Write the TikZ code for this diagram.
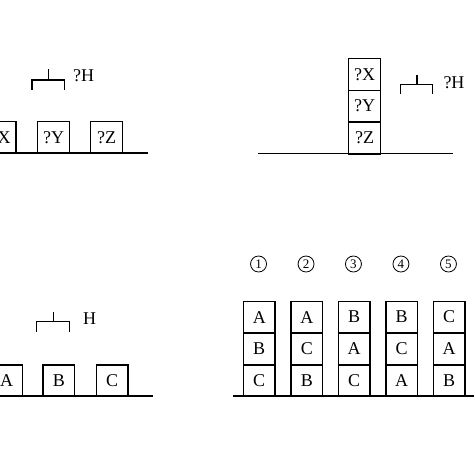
\documentclass[tikz,border=0pt]{standalone}
\usepackage{fontspec}
\setmainfont{Liberation Serif}
\begin{document}
\begin{tikzpicture}[x=1pt,y=-1pt,
  blk/.style={draw,line width=1.4pt,minimum width=31.7pt,minimum height=31.8pt,inner sep=0pt,anchor=north west,font=\fontsize{18}{20}\selectfont},
  floor/.style={line width=1.2pt},
  grip/.style={line width=1.2pt},
  lbl/.style={anchor=west,inner sep=0pt,font=\fontsize{18}{20}\selectfont},
  num/.style={draw,circle,line width=0.8pt,minimum size=16pt,inner sep=0pt,font=\fontsize{13}{15}\selectfont}]
\useasboundingbox (0,0) rectangle (474,474);
% ---------- top left ----------
\node[blk] (tx) at (-16.5,121) {?X};
\node[blk] (ty) at (37,121) {?Y};
\node[blk] (tz) at (90,121) {?Z};
\coordinate (tlA) at (0,153);
\coordinate (tlB) at (148,153);
\draw[floor] (tlA) -- (tlB);
\coordinate (g1s) at (48.3,69);
\coordinate (g1c) at (48.3,80);
\coordinate (g1l) at (32,89.5);
\coordinate (g1r) at (64.5,89.5);
\draw[grip] (g1s) -- (g1c);
\draw[grip] (g1l) |- (g1c) -| (g1r);
\node[lbl] (h1) at (73,76) {?H};
% ---------- top right ----------
\node[blk] (rx) at (348,57.7) {?X};
\node[blk] (ry) at (348,89.5) {?Y};
\node[blk] (rz) at (348,121.3) {?Z};
\coordinate (trA) at (258.3,153.3);
\coordinate (trB) at (453.3,153.3);
\draw[floor] (trA) -- (trB);
\coordinate (g2s) at (417,75);
\coordinate (g2c) at (417,84.3);
\coordinate (g2l) at (400.7,94.3);
\coordinate (g2r) at (432.7,94.3);
\draw[grip] (g2s) -- (g2c);
\draw[grip] (g2l) |- (g2c) -| (g2r);
\node[lbl] (h2) at (443.3,83) {?H};
% ---------- bottom left ----------
\node[blk] (ba) at (-10,364.2) {A};
\node[blk] (bb) at (42.3,364.2) {B};
\node[blk] (bc) at (95.7,364.2) {C};
\coordinate (blA) at (0,396);
\coordinate (blB) at (153.3,396);
\draw[floor] (blA) -- (blB);
\coordinate (g3s) at (53.3,311.7);
\coordinate (g3c) at (53.3,321.7);
\coordinate (g3l) at (36.7,331.7);
\coordinate (g3r) at (69.3,331.7);
\draw[grip] (g3s) -- (g3c);
\draw[grip] (g3l) |- (g3c) -| (g3r);
\node[lbl] (h3) at (83,318.3) {H};
% ---------- bottom right ----------
\foreach \i/\x/\a/\b/\c in {1/242.7/A/B/C,2/290.2/A/C/B,3/337.6/B/A/C,4/385.1/B/C/A,5/432.6/C/A/B}{
  \node[blk] (s\i a) at (\x,300.5) {\a};
  \node[blk] (s\i b) at (\x,332.3) {\b};
  \node[blk] (s\i c) at (\x,364.1) {\c};
  \node[num] (n\i) at (\x+15.85,264) {\i};
}
\coordinate (brA) at (232.7,396);
\coordinate (brB) at (474,396);
\draw[floor] (brA) -- (brB);
\end{tikzpicture}
\end{document}
